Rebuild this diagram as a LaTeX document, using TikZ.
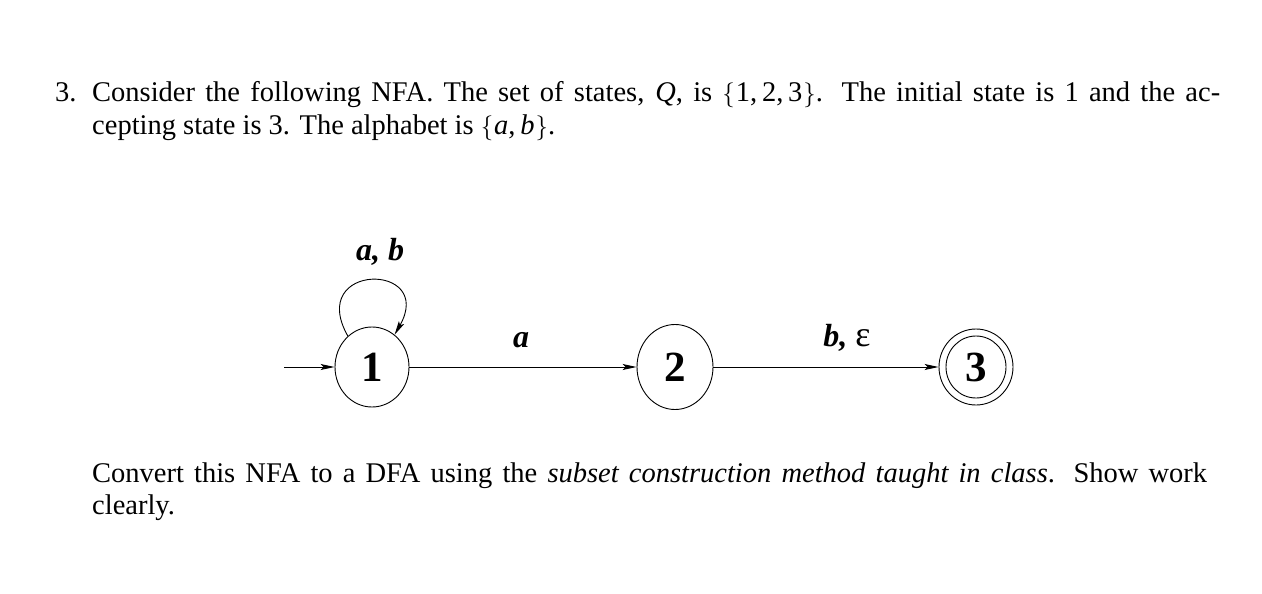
\documentclass[tikz,border=0pt]{standalone}
\usepackage{fontspec}
\setmainfont{Liberation Serif}
\usetikzlibrary{arrows.meta,shapes.geometric}
\newcommand{\lbr}{$\{$\kern1pt}
\newcommand{\rbr}{\kern1pt$\}$}
\begin{document}
\begin{tikzpicture}[x=1pt,y=1pt,
  state/.style={draw, ellipse, line width=0.9pt, minimum width=74pt, minimum height=80pt, inner sep=0pt, font=\fontsize{43}{43}\selectfont\bfseries},
  txt/.style={anchor=base west, inner sep=0pt, font=\fontsize{28.5}{32}\selectfont},
  lbl/.style={inner sep=0pt, font=\fontsize{32}{32}\selectfont\bfseries\itshape},
  edge/.style={line width=0.9pt, -{Stealth[length=14pt,width=6pt,inset=3pt]}}]
\useasboundingbox (0,0) rectangle (1262,-594);
% text
\node[txt] (num) at (55,-102) {3.};
\node[txt] (l1) at (92,-102) {\makebox[1128pt][s]{Consider the following NFA. The set of states, \textit{Q}, is \lbr 1,\,2,\,3\rbr. The initial state is 1 and the ac-}};
\node[txt] (l2) at (92,-134) {cepting state is 3. The alphabet is \lbr\textit{a},\,\textit{b}\rbr.};
\node[txt] (l3) at (92,-482) {\makebox[1115pt][s]{Convert this NFA to a DFA using the \textit{subset construction method taught in class}. Show work}};
\node[txt] (l4) at (92,-514) {clearly.};
% states
\node[state] (s1) at (372,-367) {1};
\node[state, minimum width=76pt, minimum height=85pt] (s2) at (675,-367) {2};
\node[state, minimum width=74pt, minimum height=76pt] (s3) at (976,-367) {3};
\node[draw, ellipse, line width=0.9pt, minimum width=60pt, minimum height=62pt, inner sep=0pt] (s3in) at (s3) {};
\coordinate (start) at (284,-367);
% edges
\draw[edge] (start) -- (s1);
\draw[edge] (s1) -- (s2);
\draw[edge] (s2) -- (s3);
\draw[edge] (s1.128) .. controls (306,-262) and (436,-262) .. (s1.55);
% labels
\node[lbl] (la) at (521,-340) {a};
\node[lbl, anchor=base] (lbe) at (847,-346) {b,\ {\normalfont\fontsize{36}{36}\selectfont ε}};
\node[lbl, anchor=base] (lab) at (380,-260) {a, b};
\end{tikzpicture}
\end{document}
